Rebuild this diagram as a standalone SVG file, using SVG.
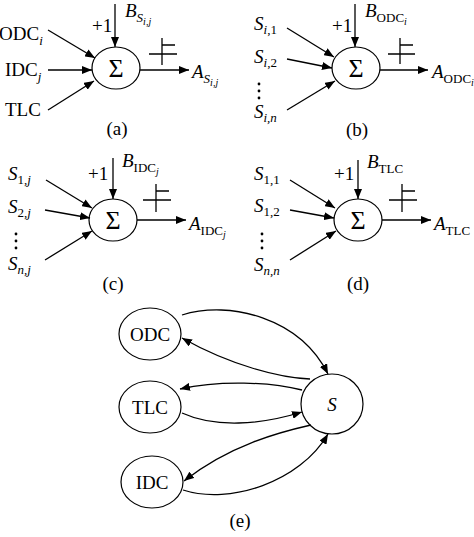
<svg xmlns="http://www.w3.org/2000/svg" width="474" height="537" viewBox="0 0 474 537" font-family="'Liberation Serif', 'Times New Roman', 'DejaVu Serif', serif">
<defs>
<marker id="ah" viewBox="0 0 10 8" refX="10" refY="4" markerWidth="10" markerHeight="8" markerUnits="userSpaceOnUse" orient="auto">
<path d="M0,0 L10,4 L0,8 Z" fill="#000"/>
</marker>
<style>
text{font-family:'Liberation Serif','Times New Roman','DejaVu Serif',serif}
.t{font-size:19px;fill:#000}
.it{font-style:italic}
.s{font-size:13px}
.ss{font-size:10px}
.ln{stroke:#000;stroke-width:1.3;fill:none}
.ar{stroke:#000;stroke-width:1.3;fill:none;marker-end:url(#ah)}
.nd{stroke:#000;stroke-width:1.2;fill:#fff}
.sig{font-size:26px;fill:#000}
</style>
</defs>
<rect width="474" height="537" fill="#fff"/>

<!-- Panel (a) -->
<g id="sum-a">
<ellipse class="nd" cx="116" cy="68" rx="24" ry="21"/>
<text class="sig" x="116" y="77" text-anchor="middle">Σ</text>
</g>
<g id="labels-a">
<text class="t" x="-1" y="40">ODC<tspan class="s it" dy="5">i</tspan></text>
<text class="t" x="5" y="76">IDC<tspan class="s it" dy="5">j</tspan></text>
<text class="t" x="5" y="116">TLC</text>
<text class="t" x="92" y="32">+1</text>
<text class="t it" x="125" y="17">B<tspan class="s" dy="5">S</tspan><tspan class="ss" dy="3">i,j</tspan></text>
<text class="t it" x="192" y="78">A<tspan class="s" dy="5">S</tspan><tspan class="ss" dy="3">i,j</tspan></text>
<text class="t" x="117" y="135" text-anchor="middle">(a)</text>
</g>

<!-- Panel (b) -->
<g id="sum-b">
<ellipse class="nd" cx="356" cy="68" rx="24" ry="21"/>
<text class="sig" x="356" y="77" text-anchor="middle">Σ</text>
</g>
<g id="labels-b">
<text class="t it" x="254" y="30">S<tspan class="s" dy="4">i</tspan><tspan class="s" font-style="normal">,1</tspan></text>
<text class="t it" x="254" y="63">S<tspan class="s" dy="4">i</tspan><tspan class="s" font-style="normal">,2</tspan></text>
<circle cx="259" cy="84" r="1.4"/><circle cx="259" cy="91" r="1.4"/><circle cx="259" cy="98" r="1.4"/>
<text class="t it" x="254" y="118">S<tspan class="s" dy="4">i,n</tspan></text>
<text class="t" x="332" y="32">+1</text>
<text class="t it" x="365" y="17">B<tspan class="s" font-style="normal" dy="5">ODC</tspan><tspan class="ss" dy="3">i</tspan></text>
<text class="t it" x="432" y="78">A<tspan class="s" font-style="normal" dy="5">ODC</tspan><tspan class="ss" dy="3">i</tspan></text>
<text class="t" x="357" y="136" text-anchor="middle">(b)</text>
</g>

<!-- Panel (c) -->
<g id="sum-c">
<ellipse class="nd" cx="113" cy="220" rx="24" ry="21"/>
<text class="sig" x="113" y="229" text-anchor="middle">Σ</text>
</g>
<g id="labels-c">
<text class="t it" x="8" y="180">S<tspan class="s" font-style="normal" dy="4">1,</tspan><tspan class="s">j</tspan></text>
<text class="t it" x="8" y="213">S<tspan class="s" font-style="normal" dy="4">2,</tspan><tspan class="s">j</tspan></text>
<circle cx="16" cy="234" r="1.4"/><circle cx="16" cy="241" r="1.4"/><circle cx="16" cy="248" r="1.4"/>
<text class="t it" x="8" y="270">S<tspan class="s" dy="4">n,j</tspan></text>
<text class="t" x="88" y="180">+1</text>
<text class="t it" x="122" y="167">B<tspan class="s" font-style="normal" dy="5">IDC</tspan><tspan class="ss" dy="3">j</tspan></text>
<text class="t it" x="189" y="230">A<tspan class="s" font-style="normal" dy="5">IDC</tspan><tspan class="ss" dy="3">j</tspan></text>
<text class="t" x="113" y="290" text-anchor="middle">(c)</text>
</g>

<!-- Panel (d) -->
<g id="sum-d">
<ellipse class="nd" cx="358" cy="220" rx="24" ry="21"/>
<text class="sig" x="358" y="229" text-anchor="middle">Σ</text>
</g>
<g id="labels-d">
<text class="t it" x="254" y="180">S<tspan class="s" font-style="normal" dy="4">1,1</tspan></text>
<text class="t it" x="254" y="212">S<tspan class="s" font-style="normal" dy="4">1,2</tspan></text>
<circle cx="262" cy="234" r="1.4"/><circle cx="262" cy="241" r="1.4"/><circle cx="262" cy="248" r="1.4"/>
<text class="t it" x="254" y="271">S<tspan class="s" dy="4">n,n</tspan></text>
<text class="t" x="334" y="180">+1</text>
<text class="t it" x="367" y="168">B<tspan class="s" font-style="normal" dy="5">TLC</tspan></text>
<text class="t it" x="434" y="230">A<tspan class="s" font-style="normal" dy="5">TLC</tspan></text>
<text class="t" x="358" y="290" text-anchor="middle">(d)</text>
</g>

<!-- Panel (e) nodes -->
<g id="node-odc">
<ellipse class="nd" cx="150" cy="334" rx="31" ry="26"/>
<text class="t" x="150" y="341" text-anchor="middle">ODC</text>
</g>
<g id="node-tlc">
<ellipse class="nd" cx="150" cy="407" rx="31" ry="26"/>
<text class="t" x="150" y="414" text-anchor="middle">TLC</text>
</g>
<g id="node-idc">
<ellipse class="nd" cx="152" cy="482" rx="31" ry="26"/>
<text class="t" x="152" y="489" text-anchor="middle">IDC</text>
</g>
<g id="node-s">
<ellipse class="nd" cx="332" cy="404" rx="31" ry="30"/>
<text class="t it" x="332" y="411" text-anchor="middle">S</text>
</g>

<g id="connectors">
<!-- (a) -->
<line class="ar" x1="48" y1="30" x2="95" y2="58"/>
<line class="ar" x1="48" y1="70" x2="92" y2="70"/>
<line class="ar" x1="48" y1="110" x2="94" y2="81"/>
<line class="ar" x1="115" y1="4" x2="115" y2="47"/>
<line class="ar" x1="140" y1="70" x2="189" y2="70"/>
<path class="ln" d="M162,38 V65 M162,45 H175 M149,54 H177"/>
<!-- (b) -->
<line class="ar" x1="287" y1="28" x2="334" y2="57"/>
<line class="ar" x1="287" y1="59" x2="332" y2="68"/>
<line class="ar" x1="287" y1="110" x2="335" y2="81"/>
<line class="ar" x1="355" y1="4" x2="355" y2="47"/>
<line class="ar" x1="380" y1="70" x2="428" y2="70"/>
<path class="ln" d="M400,38 V64 M400,45 H413 M388,54 H415"/>
<!-- (c) -->
<line class="ar" x1="46" y1="180" x2="92" y2="208"/>
<line class="ar" x1="45" y1="210" x2="90" y2="218"/>
<line class="ar" x1="45" y1="260" x2="92" y2="231"/>
<line class="ar" x1="113" y1="158" x2="113" y2="199"/>
<line class="ar" x1="137" y1="220" x2="186" y2="220"/>
<path class="ln" d="M156,184 V212 M156,191 H169 M143,200 H171"/>
<!-- (d) -->
<line class="ar" x1="290" y1="180" x2="335" y2="208"/>
<line class="ar" x1="290" y1="210" x2="334" y2="218"/>
<line class="ar" x1="290" y1="260" x2="336" y2="231"/>
<line class="ar" x1="358" y1="160" x2="358" y2="199"/>
<line class="ar" x1="382" y1="220" x2="431" y2="220"/>
<path class="ln" d="M402,184 V212 M402,191 H415 M389,200 H417"/>
<!-- (e) -->
<path class="ar" d="M182,315 C230,300 300,318 328,374"/>
<path class="ar" d="M310,379 C280,378 230,365 182,338"/>
<path class="ar" d="M302,390 C270,382 220,380 180,389"/>
<path class="ar" d="M182,413 C215,428 260,425 302,412"/>
<path class="ar" d="M311,425 C280,432 230,445 184,481"/>
<path class="ar" d="M183,490 C230,505 300,482 328,434"/>
</g>
<text class="t" x="240" y="527" text-anchor="middle">(e)</text>
</svg>
